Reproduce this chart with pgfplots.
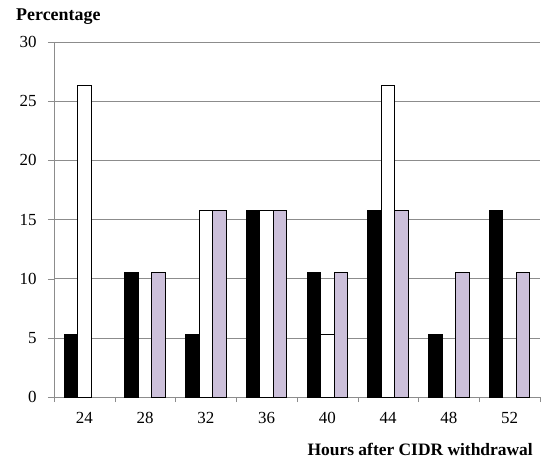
\documentclass[border=0pt]{standalone}
\usepackage{fontspec}
\setmainfont{Liberation Serif}
\usepackage{pgfplots}
\pgfplotsset{compat=1.18}
\definecolor{lilac}{RGB}{204,192,218}
\definecolor{gridgray}{RGB}{140,140,140}
\begin{document}
\begin{tikzpicture}
\useasboundingbox (-54bp,-64bp) rectangle (496bp,397bp);
\begin{axis}[
  at={(0,0)}, anchor=origin,
  scale only axis,
  width=486bp, height=355bp,
  xmin=22, xmax=54,
  ymin=0, ymax=30,
  ybar=0pt, bar width=13.5bp,
  axis x line*=bottom, axis y line*=left,
  axis line style={gridgray,-},
  xtick={24,28,...,52},
  xticklabels={24,28,32,36,40,44,48,52},
  major x tick style={draw=none},
  minor xtick={22,26,...,54},
  minor x tick style={gridgray},
  minor tick length=5bp,
  ytick={0,5,...,30},
  y tick style={gridgray},
  major tick length=6bp,
  tick align=outside,
  ymajorgrids, grid style={gridgray},
  tick label style={font=\fontsize{17}{19}\selectfont},
  /pgf/number format/assume math mode=true,
  xticklabel style={yshift=-6bp},
  yticklabel style={xshift=-8bp},
  clip=false,
]
\addplot[draw=black, fill=black, line width=0.8pt] coordinates {(24,5.26) (28,10.53) (32,5.26) (36,15.79) (40,10.53) (44,15.79) (48,5.26) (52,15.79)};
\addplot[draw=black, fill=white, line width=0.8pt] coordinates {(24,26.32) (32,15.79) (36,15.79) (40,5.26) (44,26.32)};
\addplot[draw=black, fill=lilac, line width=0.8pt] coordinates {(28,10.53) (32,15.79) (36,15.79) (40,10.53) (44,15.79) (48,10.53) (52,10.53)};
\end{axis}
\node[anchor=base west, font=\fontsize{18}{20}\selectfont\bfseries, inner sep=0pt] at (-38bp,376bp) {Percentage};
\node[anchor=base east, font=\fontsize{17.5}{20}\selectfont\bfseries, inner sep=0pt] at (479bp,-58bp) {Hours after CIDR withdrawal};
\end{tikzpicture}
\end{document}
